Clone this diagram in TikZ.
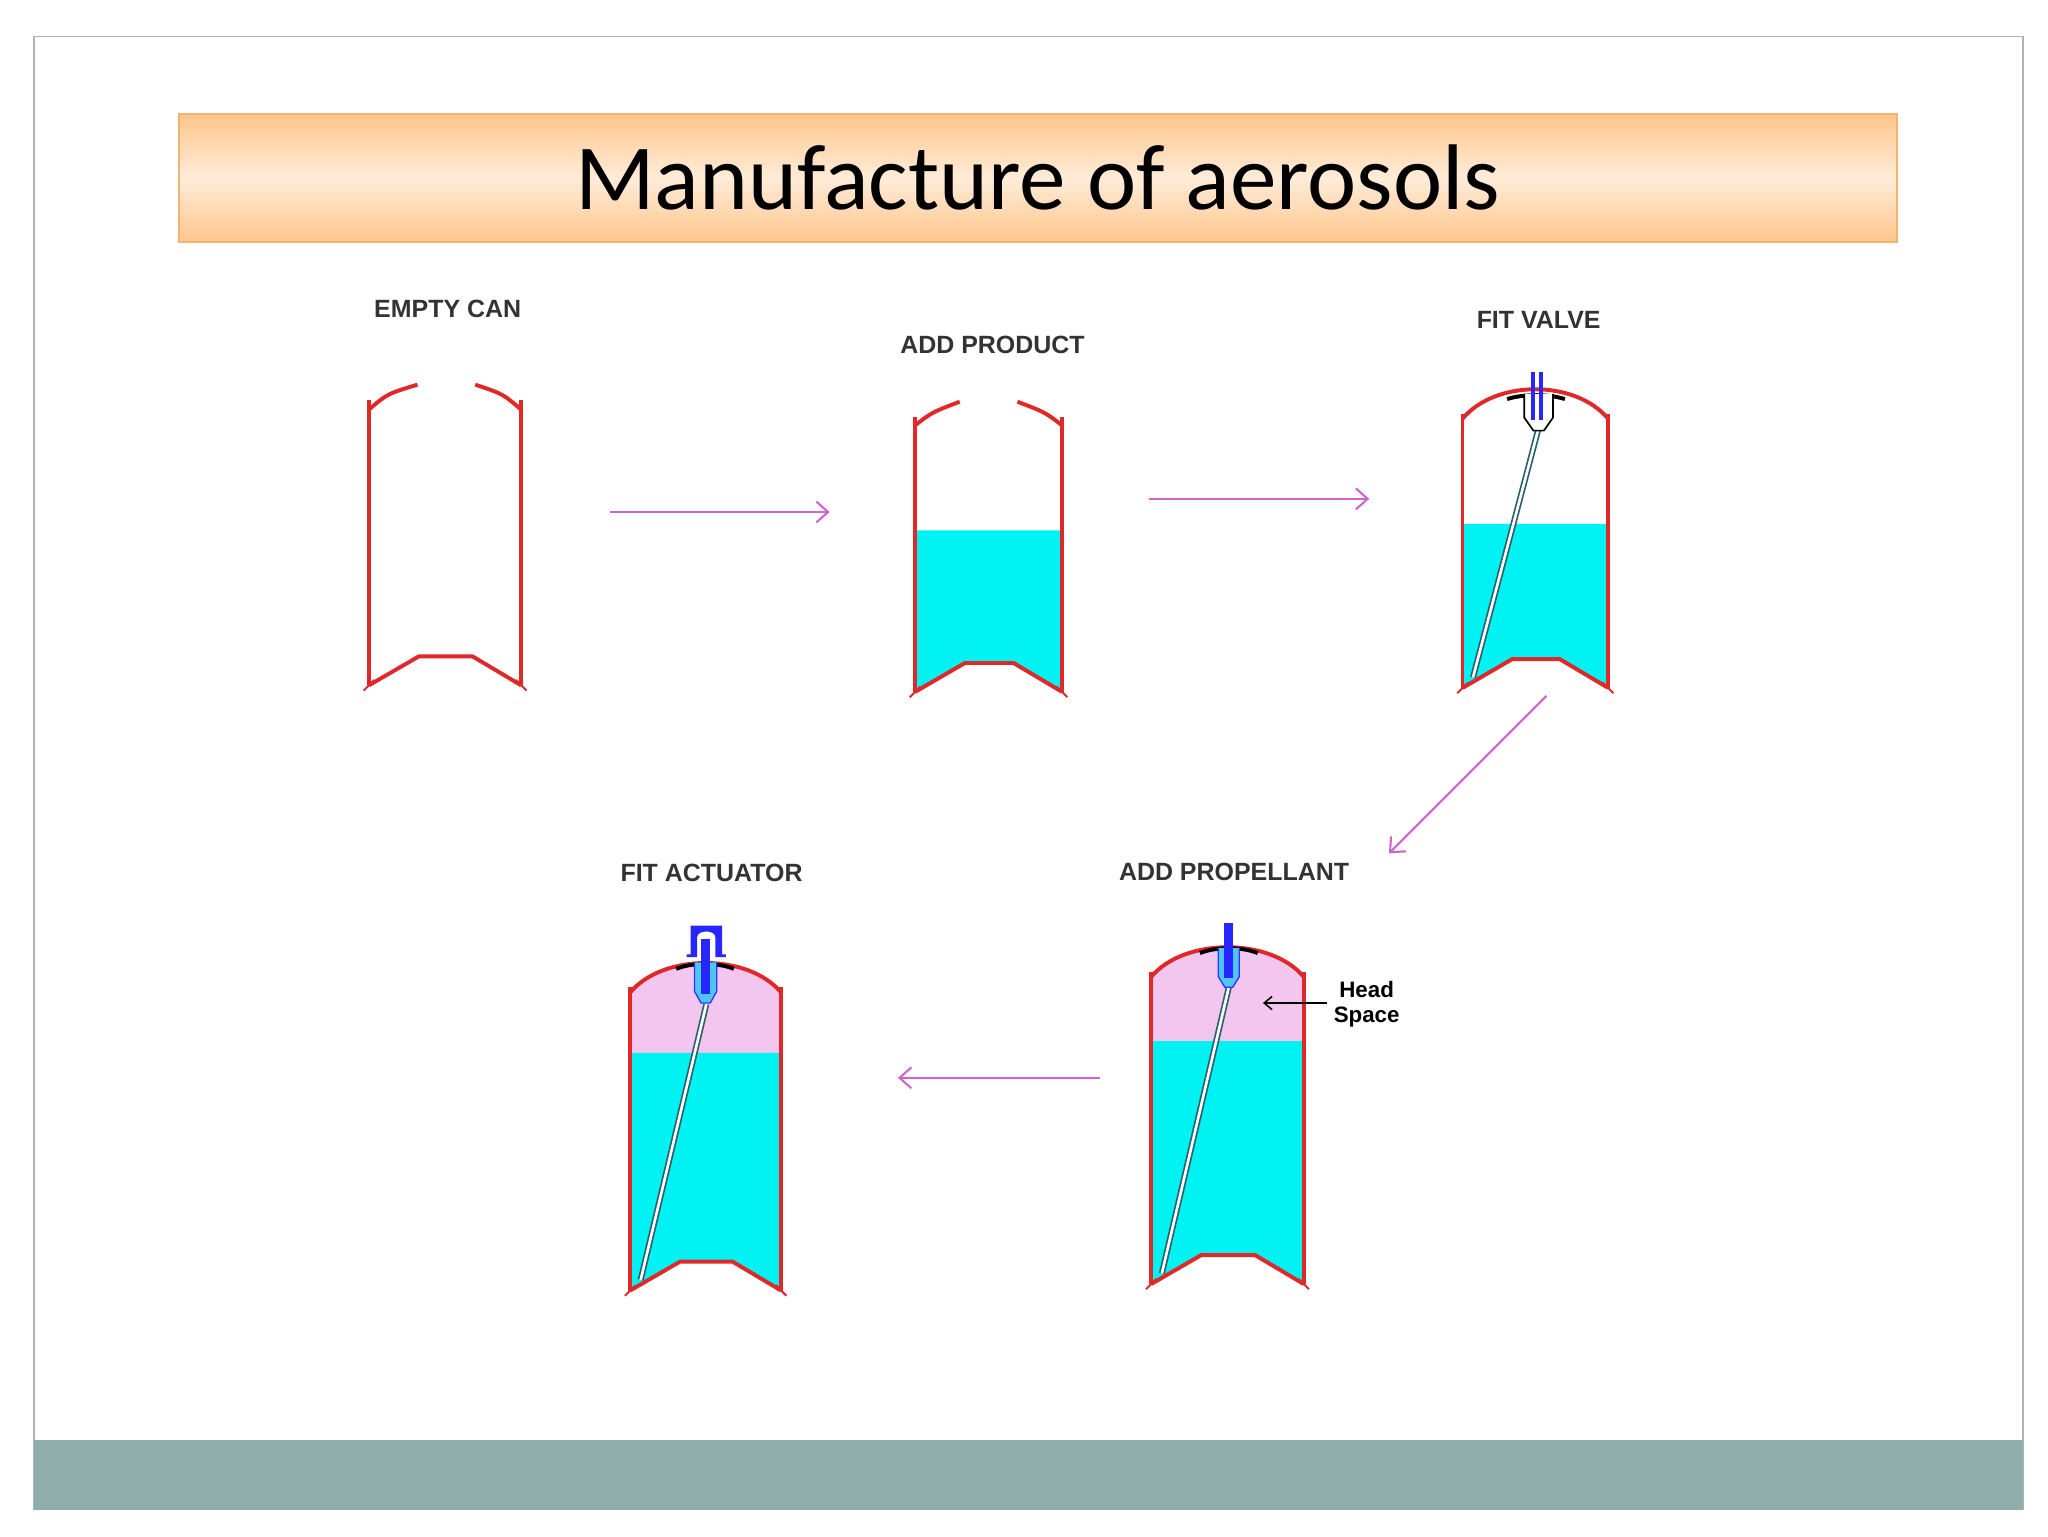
\documentclass[tikz,border=0pt]{standalone}
\usepackage{fontspec}
\setmainfont{Liberation Sans}
\newfontfamily\titlefont{Carlito}
\usetikzlibrary{arrows.meta,calc}
\definecolor{wallred}{HTML}{E02828}
\definecolor{liq}{HTML}{00F2F2}
\definecolor{head}{HTML}{F2C6EE}
\definecolor{arr}{HTML}{CC66CC}
\definecolor{band}{HTML}{8FAEA9}
\definecolor{tube}{HTML}{2A5F6E}
\tikzset{
  wall/.style={draw=wallred,line width=3pt,line join=round},
  flow/.style={draw=arr,line width=1.6pt,-{Straight Barb[length=9pt,width=16pt,line width=1.6pt]}},
  lbl/.style={font=\bfseries\fontsize{19}{22}\selectfont, text=black!80},
  tubeline/.style={draw=tube,double=white,double distance=2pt,line width=1.3pt},
}
\newcommand\canbottom[4]{(#1,#4) -- ({#1+38},{#4-22}) -- ({#2-37},{#4-22}) -- (#2,#4)}
\newcommand\candome[4]{(#1,{#3+4}) .. controls ({#1+25},{#3-26}) and ({#2-25},{#3-26}) .. (#2,{#3+4})}
\newcommand\canwalls[4]{\draw[wall] (#1,#3) -- (#1,#4); \draw[wall] (#2,#3) -- (#2,#4);
  \draw[wall] \canbottom{#1}{#2}{#3}{#4};
  \draw[wallred,line width=1.5pt] ({#1-4},{#4+4}) -- ({#1+4},{#4-4}) ({#2+4},{#4+4}) -- ({#2-4},{#4-4});}
\newcommand\liquid[5]{\fill[liq] (#1,#5) -- (#2,#5) -- (#2,#4) -- ({#2-37},{#4-22}) -- ({#1+38},{#4-22}) -- (#1,#4) -- cycle;}
\newcommand\headspace[5]{\fill[head] (#1,#5) -- \candome{#1}{#2}{#3}{#4} -- (#2,#5) -- cycle;}
\begin{document}
\begin{tikzpicture}[x=1pt,y=-1pt]
\useasboundingbox (0,0) rectangle (1560,1170);
\fill[white] (0,0) rectangle (1560,1170);
\draw[black!30,line width=1pt] (26,28) rectangle (1541,1150);
\fill[band] (26,1097) rectangle (1541,1150);
\node[draw=orange!70!brown!60,line width=1.5pt,top color=orange!45,bottom color=orange!45!white,middle color=orange!15,
  minimum width=1309pt,minimum height=97pt,inner sep=0pt] (title) at (790.5,135.5)
  {\titlefont\fontsize{71}{72}\selectfont Manufacture of aerosols};
\node[lbl] (l1) at (341,235) {EMPTY CAN};
\node[lbl] (l2) at (756,263) {ADD PRODUCT};
\node[lbl] (l3) at (1172,244) {FIT VALVE};
\node[lbl] (l5) at (542,665) {FIT ACTUATOR};
\node[lbl] (l4) at (940,664) {ADD PROPELLANT};
% can 1
\canwalls{281}{397}{305}{522}
\draw[wall] (281,312) .. controls (295,300) .. (318,293);
\draw[wall] (397,312) .. controls (383,300) .. (362,293);
% can 2
\liquid{697}{809}{318}{527}{404}
\canwalls{697}{809}{318}{527}
\draw[wall] (697,324) .. controls (710,314) .. (731,306);
\draw[wall] (809,324) .. controls (796,314) .. (775,306);
% can 3
\liquid{1114}{1225}{315}{524}{399}
\canwalls{1114}{1225}{315}{524}
\draw[wall] \candome{1114}{1225}{315}{524};
\draw[tubeline] (1172,326) -- (1122,516);
\draw[black,line width=3pt] (1148,304) .. controls (1160,300) and (1180,300) .. (1192,304);
\draw[black,line width=1.3pt,fill=white] (1161,300) -- (1161,318) -- (1168,328) -- (1176,328) -- (1183,318) -- (1183,300);
\fill[blue!85] (1166,283) rectangle (1169,320);
\fill[blue!85] (1172,283) rectangle (1175,320);
% can 4
\headspace{877}{993}{740}{978}{793}
\liquid{877}{993}{740}{978}{793}
\canwalls{877}{993}{740}{978}
\draw[wall] \candome{877}{993}{740}{978};
\draw[tubeline] (936,752) -- (885,970);
\draw[black,line width=3pt] (914,726) .. controls (926,721) and (946,721) .. (958,726);
\draw[blue!80,line width=1pt,fill=cyan!70] (928,722) -- (928,744) -- (933,752) -- (939,752) -- (944,744) -- (944,722);
\fill[blue!85] (932,703) rectangle (939,745);
\node[font=\bfseries\fontsize{17}{19}\selectfont,align=center] (hs) at (1041,765) {Head\\Space};
\coordinate (hsend) at (962,764);
\draw[black,line width=1.2pt,-{Straight Barb[length=6pt,width=10pt]}] (hs.west|-hsend) ++(-2,0) coordinate (hsstart) (hsstart) -- (hsend);
% can 5
\headspace{480}{595}{752}{983}{802}
\liquid{480}{595}{752}{983}{802}
\canwalls{480}{595}{752}{983}
\draw[wall] \candome{480}{595}{752}{983};
\draw[tubeline] (538,765) -- (488,975);
\draw[black,line width=3pt] (515,738) .. controls (527,733) and (547,733) .. (559,738);
\draw[blue!80,line width=1pt,fill=cyan!70] (529,733) -- (529,755) -- (534,764) -- (541,764) -- (546,755) -- (546,733);
\fill[blue!85] (534,715) rectangle (541,757);
\fill[blue!85] (523,727) -- (526,727) -- (526,705) -- (550,705) -- (550,727) -- (553,727) -- (553,729) -- (545,729) -- (545,714) .. controls (545,708) and (531,708) .. (531,714) -- (531,729) -- (523,729) -- cycle;
% arrows
\coordinate (a1s) at (465,390); \coordinate (a1e) at (632,390);
\coordinate (a2s) at (875,380); \coordinate (a2e) at (1043,380);
\coordinate (a3s) at (1178,530); \coordinate (a3e) at (1058,650);
\coordinate (a4s) at (838,821); \coordinate (a4e) at (684,821);
\draw[flow] (a1s) -- (a1e);
\draw[flow] (a2s) -- (a2e);
\draw[flow] (a3s) -- (a3e);
\draw[flow] (a4s) -- (a4e);
\end{tikzpicture}
\end{document}
